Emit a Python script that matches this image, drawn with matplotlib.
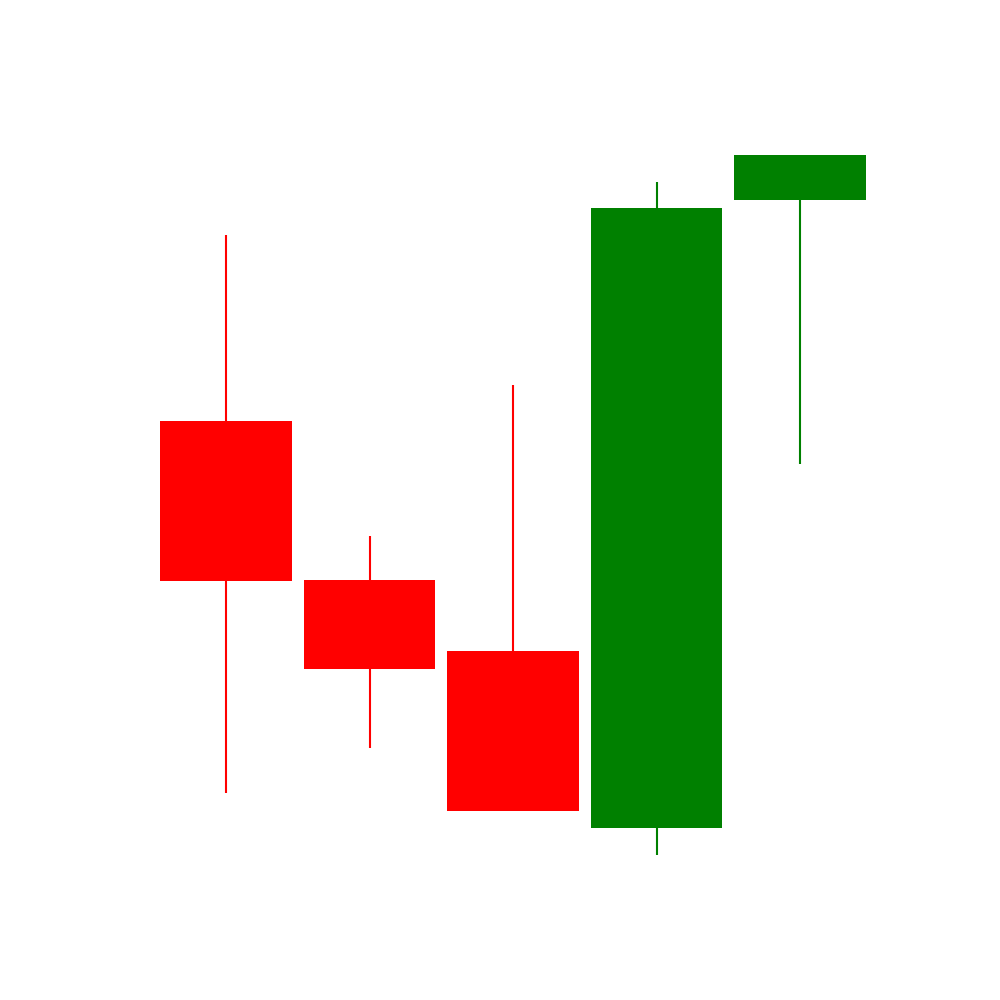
import matplotlib
matplotlib.use("Agg")
import matplotlib.pyplot as plt
import numpy as np

dates = ["D1", "D2", "D3", "D4", "D5"]
opens = [57.9, 42.0, 34.9, 17.2, 80.0]
closes = [41.9, 33.1, 18.9, 79.2, 84.5]
highs = [76.5, 46.4, 61.5, 81.8, 84.5]
lows = [20.7, 25.2, 18.9, 14.5, 53.6]

fig = plt.figure(figsize=(10, 10), dpi=100)
ax = fig.add_axes([0, 0, 1, 1])
x = np.arange(len(dates))
width = 0.916
for i in range(len(dates)):
    o, c, h, l = opens[i], closes[i], highs[i], lows[i]
    col = "#008000" if c >= o else "#ff0000"
    ax.vlines(x[i], l, h, color=col, linewidth=1.5, zorder=1)
    ax.bar(x[i], abs(c - o), bottom=min(o, c), width=width, color=col,
           edgecolor="none", zorder=2)

ax.set_xlim(-226 / 143.5, (1000 - 226) / 143.5)
ax.set_ylim(0, 100)
ax.axis("off")
fig.savefig("out.png", dpi=100, facecolor="white")
